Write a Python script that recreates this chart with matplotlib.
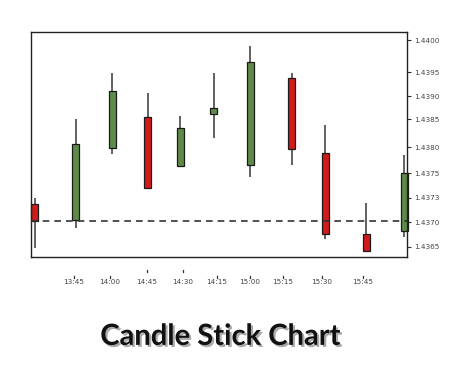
import matplotlib
matplotlib.use("Agg")
import matplotlib.pyplot as plt
import matplotlib.patheffects as pe
from matplotlib.patches import Rectangle

# ---- data ----
x_pos  = [0.0, 1.11, 2.09, 3.06, 3.93, 4.85, 5.83, 6.96, 7.86, 8.97, 10.0]
opens  = [1.43723, 1.43696, 1.43817, 1.43870, 1.43787, 1.43875, 1.43789, 1.43936, 1.43809, 1.43672, 1.43677]
highs  = [1.43733, 1.43866, 1.43944, 1.43910, 1.43872, 1.43944, 1.43990, 1.43944, 1.43856, 1.43724, 1.43806]
lows   = [1.43648, 1.43682, 1.43807, 1.43750, 1.43787, 1.43834, 1.43768, 1.43789, 1.43664, 1.43643, 1.43667]
closes = [1.43694, 1.43824, 1.43914, 1.43750, 1.43851, 1.43885, 1.43963, 1.43816, 1.43672, 1.43643, 1.43775]
ref_level = 1.43694

xtick_pos    = [1.06, 2.03, 3.03, 4.01, 4.93, 5.83, 6.72, 7.78, 8.89]
xtick_labels = ["13:45", "14:00", "14:45", "14:30", "14:15", "15:00", "15:15", "15:30", "15:45"]
xtick_raise  = [0, 0, 1, 1, 0, 0, 0, 0, 0]

ytick_pos    = [1.44000, 1.43946, 1.43905, 1.43866, 1.43819, 1.43775, 1.43733, 1.43692, 1.43650]
ytick_labels = ["1.4400", "1.4395", "1.4390", "1.4385", "1.4380", "1.4375", "1.4373", "1.4370", "1.4365"]

title = "Candle Stick Chart"

GREEN = "#5e8c48"
RED = "#d11a1a"

fig = plt.figure(figsize=(4.74, 3.85), dpi=100)
ax = fig.add_axes([0.0654, 0.3325, 0.7932, 0.5844])

width = 0.19
for x, o, h, l, c in zip(x_pos, opens, highs, lows, closes):
    col = GREEN if c >= o else RED
    ax.plot([x, x], [l, h], color="#555555", lw=1.3, zorder=1, solid_capstyle="butt", clip_on=False)
    bottom = min(o, c)
    ax.add_patch(Rectangle((x - width / 2, bottom), width, abs(c - o),
                           facecolor=col, edgecolor="#1a1a1a", lw=0.9, zorder=2, clip_on=False))

ax.axhline(ref_level, color="#333333", lw=1.2, ls=(0, (4, 3)), zorder=3)

ax.set_xlim(-0.108, 10.08)
ax.set_ylim(1.43633, 1.44014)

# y axis on right
ax.yaxis.tick_right()
ax.set_yticks(ytick_pos)
ax.set_yticklabels(ytick_labels, fontsize=5.2, color="#444444")
ax.tick_params(axis="y", direction="out", length=3, width=0.8, color="#333333", pad=2)

# x axis: detached small tick marks and labels
ax.set_xticks([])
trans = ax.get_xaxis_transform()
for xp, lab, r in zip(xtick_pos, xtick_labels, xtick_raise):
    y0 = -0.068 - (0 if r else 0.027)
    ax.plot([xp, xp], [y0, y0 + 0.012], transform=trans, color="#333333", lw=0.9, clip_on=False)
    ax.text(xp, -0.10, lab, transform=trans, ha="center", va="top", fontsize=5.2, color="#444444")

for s in ax.spines.values():
    s.set_color("#222222")
    s.set_linewidth(1.0)

fig.text(0.465, 0.125, title, ha="center", va="center", fontsize=21, fontweight="bold",
         family="Lato", color="#111111",
         path_effects=[pe.withSimplePatchShadow(offset=(1.5, -1.5), shadow_rgbFace="#888888", alpha=0.7)])

fig.savefig("out.png", dpi=100, facecolor="white")
